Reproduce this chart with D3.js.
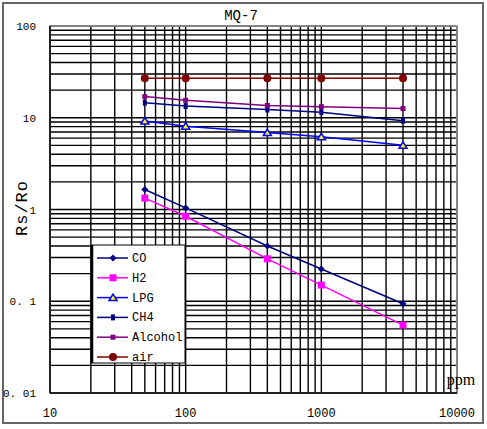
<!DOCTYPE html>
<html>
<head>
<meta charset="utf-8">
<script src="https://cdn.jsdelivr.net/npm/d3@7"></script>
<style>
  body { margin: 0; background: #fff; }
  text { font-family: "Liberation Mono", "DejaVu Sans Mono", monospace; fill: #000; }
</style>
</head>
<body>
<div id="chart"></div>
<script>
// concentrations (ppm) where the curves were measured
const ppm = [50, 100, 400, 1000, 4000];

// Rs/Ro
const coValues      = [1.65, 1.04, 0.40, 0.225, 0.094];
const h2Values      = [1.33, 0.845, 0.29, 0.15, 0.055];
const lpgValues     = [9.2, 8.1, 6.9, 6.2, 5.0];
const ch4Values     = [14.6, 13.4, 12.3, 11.5, 9.3];
const alcoholValues = [17, 15.5, 13.6, 13.2, 12.6];
const airValues     = [27, 27, 27, 27, 27];

const seriesNames = ['CO', 'H2', 'LPG', 'CH4', 'Alcohol', 'air'];
const xTickLabels = ['10', '100', '1000', '10000'];
const yTickLabels = ['100', '10', '1', '0. 1', '0. 01'];

const series = [
    { name: seriesNames[0], values: coValues,      color: '#000080', marker: 'diamond' },
    { name: seriesNames[1], values: h2Values,      color: '#ff00ff', marker: 'square' },
    { name: seriesNames[2], values: lpgValues,     color: '#0000ff', marker: 'triangle' },
    { name: seriesNames[3], values: ch4Values,     color: '#000080', marker: 'cross' },
    { name: seriesNames[4], values: alcoholValues, color: '#800080', marker: 'small' },
    { name: seriesNames[5], values: airValues,     color: '#800000', marker: 'circle' }
];

const width = 487, height = 429;
const plot = { left: 50, top: 26, right: 457, bottom: 393 };

const svg = d3.select('#chart').append('svg')
    .attr('width', width)
    .attr('height', height);

// outer frame
svg.append('rect')
    .attr('x', 3).attr('y', 3)
    .attr('width', 480).attr('height', 420)
    .attr('fill', '#fff')
    .attr('stroke', '#666')
    .attr('stroke-width', 2);

const x = d3.scaleLog().domain([10, 10000]).range([plot.left, plot.right]);
const y = d3.scaleLog().domain([0.01, 100]).range([plot.bottom, plot.top]);

// grid
const grid = svg.append('g').attr('stroke', '#000').attr('stroke-width', 1.4);
grid.selectAll('.vx')
    .data(x.ticks())
    .enter().append('line')
    .attr('x1', d => x(d)).attr('x2', d => x(d))
    .attr('y1', plot.top).attr('y2', plot.bottom);
grid.selectAll('.hy')
    .data(y.ticks())
    .enter().append('line')
    .attr('x1', plot.left).attr('x2', plot.right)
    .attr('y1', d => y(d)).attr('y2', d => y(d));

// plot border
svg.append('rect')
    .attr('x', plot.left).attr('y', plot.top)
    .attr('width', plot.right - plot.left)
    .attr('height', plot.bottom - plot.top)
    .attr('fill', 'none')
    .attr('stroke', '#999')
    .attr('stroke-width', 1.5);
svg.append('line')
    .attr('x1', plot.left).attr('x2', plot.left)
    .attr('y1', plot.top).attr('y2', plot.bottom)
    .attr('stroke', '#000').attr('stroke-width', 1.5);
svg.append('line')
    .attr('x1', plot.left).attr('x2', plot.right)
    .attr('y1', plot.bottom).attr('y2', plot.bottom)
    .attr('stroke', '#000').attr('stroke-width', 1.5);

// axis labels
const xMajors = [10, 100, 1000, 10000];
svg.selectAll('.xl')
    .data(xMajors)
    .enter().append('text')
    .attr('x', d => x(d))
    .attr('y', 417)
    .attr('text-anchor', 'middle')
    .style('font-size', '12px')
    .text((d, i) => xTickLabels[i]);

const yMajors = [100, 10, 1, 0.1, 0.01];
svg.selectAll('.yl')
    .data(yMajors)
    .enter().append('text')
    .attr('x', 36)
    .attr('y', d => y(d) + 4)
    .attr('text-anchor', 'end')
    .style('font-size', '11px')
    .text((d, i) => yTickLabels[i]);

svg.append('text')
    .attr('x', 241).attr('y', 20)
    .attr('text-anchor', 'middle')
    .style('font-size', '14px')
    .text('MQ-7');

svg.append('text')
    .attr('transform', 'translate(27,208) rotate(-90)')
    .attr('text-anchor', 'middle')
    .style('font-size', '17px')
    .style('letter-spacing', '1px')
    .text('Rs/Ro');

svg.append('text')
    .attr('x', 461).attr('y', 385)
    .attr('text-anchor', 'middle')
    .style('font-size', '16px')
    .style('font-family', '"Liberation Serif", serif')
    .text('ppm');

// markers
function drawMarker(g, type, color) {
    if (type === 'diamond') {
        g.append('path').attr('d', 'M0,-3.5L3.5,0L0,3.5L-3.5,0Z').attr('fill', color);
    } else if (type === 'square') {
        g.append('rect').attr('x', -3.5).attr('y', -3.5).attr('width', 7).attr('height', 7).attr('fill', color);
    } else if (type === 'triangle') {
        g.append('path').attr('d', 'M0,-3.5L4,3L-4,3Z')
            .attr('fill', '#ffff00').attr('stroke', color).attr('stroke-width', 1.5);
    } else if (type === 'cross') {
        g.append('rect').attr('x', -2).attr('y', -3).attr('width', 4).attr('height', 6).attr('fill', color);
    } else if (type === 'small') {
        g.append('rect').attr('x', -2.5).attr('y', -2.5).attr('width', 5).attr('height', 5).attr('fill', color);
    } else if (type === 'circle') {
        g.append('circle').attr('r', 4).attr('fill', color);
    }
}

const line = d3.line()
    .x((d, i) => x(ppm[i]))
    .y(d => y(d));

series.forEach(s => {
    svg.append('path')
        .attr('d', line(s.values))
        .attr('fill', 'none')
        .attr('stroke', s.color)
        .attr('stroke-width', 1.5);
    s.values.forEach((v, i) => {
        const g = svg.append('g').attr('transform', `translate(${x(ppm[i])},${y(v)})`);
        drawMarker(g, s.marker, s.color);
    });
});

// legend
const legend = svg.append('g');
legend.append('rect')
    .attr('x', 92).attr('y', 245)
    .attr('width', 93).attr('height', 118)
    .attr('fill', '#fff')
    .attr('stroke', '#000')
    .attr('stroke-width', 1);
legend.append('line')
    .attr('x1', 92).attr('x2', 92).attr('y1', 245).attr('y2', 363)
    .attr('stroke', '#000').attr('stroke-width', 2.5);

series.forEach((s, i) => {
    const ly = 258 + i * 19.8;
    legend.append('line')
        .attr('x1', 97).attr('x2', 128)
        .attr('y1', ly).attr('y2', ly)
        .attr('stroke', s.color).attr('stroke-width', 1.5);
    const g = legend.append('g').attr('transform', `translate(113,${ly})`);
    drawMarker(g, s.marker, s.color);
    legend.append('text')
        .attr('x', 132).attr('y', ly + 4)
        .style('font-size', '12px')
        .text(s.name);
});
</script>
</body>
</html>
